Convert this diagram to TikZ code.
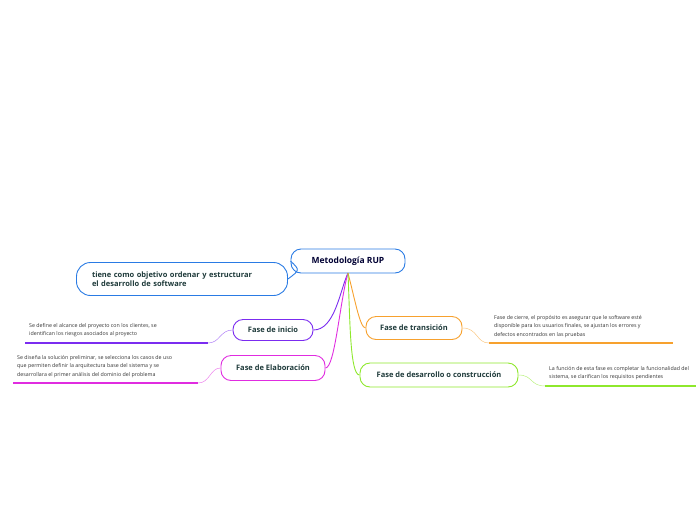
\documentclass[tikz,border=0pt]{standalone}
\usepackage{fontspec}
\setmainfont{Open Sans}
\definecolor{cblue}{HTML}{2A7BE4}
\definecolor{cpurp}{HTML}{7B2CF0}
\definecolor{cmag}{HTML}{E02CE0}
\definecolor{corg}{HTML}{F7A12E}
\definecolor{cgrn}{HTML}{8EE82C}
\definecolor{ctxt}{HTML}{1E3A3A}
\begin{document}
\begin{tikzpicture}[x=1pt,y=-1pt,
  topic/.style={draw=#1,line width=0.9pt,rounded corners=10pt,fill=white,font=\bfseries\fontsize{7.5}{9}\selectfont,text=ctxt,align=left},
  note/.style={font=\fontsize{5.3}{8.5}\selectfont,text=black!80,align=left,anchor=north west,inner sep=0pt},
  link/.style={draw=#1,line width=0.9pt},
  thin/.style={draw=#1!60,line width=0.5pt}]
\useasboundingbox (0,0) rectangle (696,520);
\node[topic=cblue,minimum width=114pt,minimum height=24pt,font=\bfseries\fontsize{8.5}{10}\selectfont,text=black!80!blue] (root) at (348,261) {Metodología RUP};
\node[topic=cblue,minimum width=211pt,minimum height=33pt,rounded corners=14pt,text width=180pt] (obj) at (182,279) {tiene como objetivo ordenar y estructurar\\el desarrollo de software};
\node[topic=cpurp,minimum width=80pt,minimum height=21pt] (ini) at (273,330) {Fase de inicio};
\node[topic=cmag,minimum width=104pt,minimum height=25pt] (ela) at (273,368) {Fase de Elaboración};
\node[topic=corg,minimum width=96pt,minimum height=23pt] (tra) at (414,328) {Fase de transición};
\node[topic=cgrn,minimum width=158pt,minimum height=24pt] (des) at (439,375) {Fase de desarrollo o construcción};
\coordinate (r0) at (348,273);
\draw[link=cblue] (root.west) .. controls (300,270) .. (obj.east);
\draw[link=cpurp] (r0) .. controls (340,290) and (335,330) .. (ini.east);
\draw[link=cmag] (r0) .. controls (340,300) and (335,368) .. (ela.east);
\draw[link=corg] (r0) .. controls (355,300) and (360,328) .. (tra.west);
\draw[link=cgrn] (r0) .. controls (350,320) and (350,375) .. (des.west);
% notes
\node[note] (n1) at (29,323) {Se define el alcance del proyecto con los clientes, se\\identifican los riesgos asociados al proyecto};
\coordinate (u1a) at (25,343); \coordinate (u1b) at (208,343);
\draw[cpurp,line width=1.2pt] (u1a) -- (u1b);
\draw[thin=cpurp] (u1b) .. controls (220,343) and (220,330) .. (ini.west);
\node[note] (n2) at (17,355) {Se diseña la solución preliminar, se selecciona los casos de uso\\que permiten definir la arquitectura base del sistema y se\\desarrollara el primer análisis del dominio del problema};
\coordinate (u2a) at (13,383); \coordinate (u2b) at (198,383);
\draw[cmag,line width=1.2pt] (u2a) -- (u2b);
\draw[thin=cmag] (u2b) .. controls (210,383) and (210,368) .. (ela.west);
\node[note] (n3) at (494,315) {Fase de cierre, el propósito es asegurar que le software esté\\disponible para los usuarios finales, se ajustan los errores y\\defectos encontrados en las pruebas};
\coordinate (u3a) at (489,343); \coordinate (u3b) at (673,343);
\draw[corg,line width=1.2pt] (u3a) -- (u3b);
\draw[thin=corg] (tra.east) .. controls (478,328) and (476,343) .. (u3a);
\node[note] (n4) at (549,366) {La función de esta fase es completar la funcionalidad del\\sistema, se clarifican los requisitos pendientes};
\coordinate (u4a) at (545,386); \coordinate (u4b) at (696,386);
\draw[cgrn,line width=1.2pt] (u4a) -- (u4b);
\draw[thin=cgrn] (des.east) .. controls (533,375) and (530,386) .. (u4a);
\end{tikzpicture}
\end{document}
